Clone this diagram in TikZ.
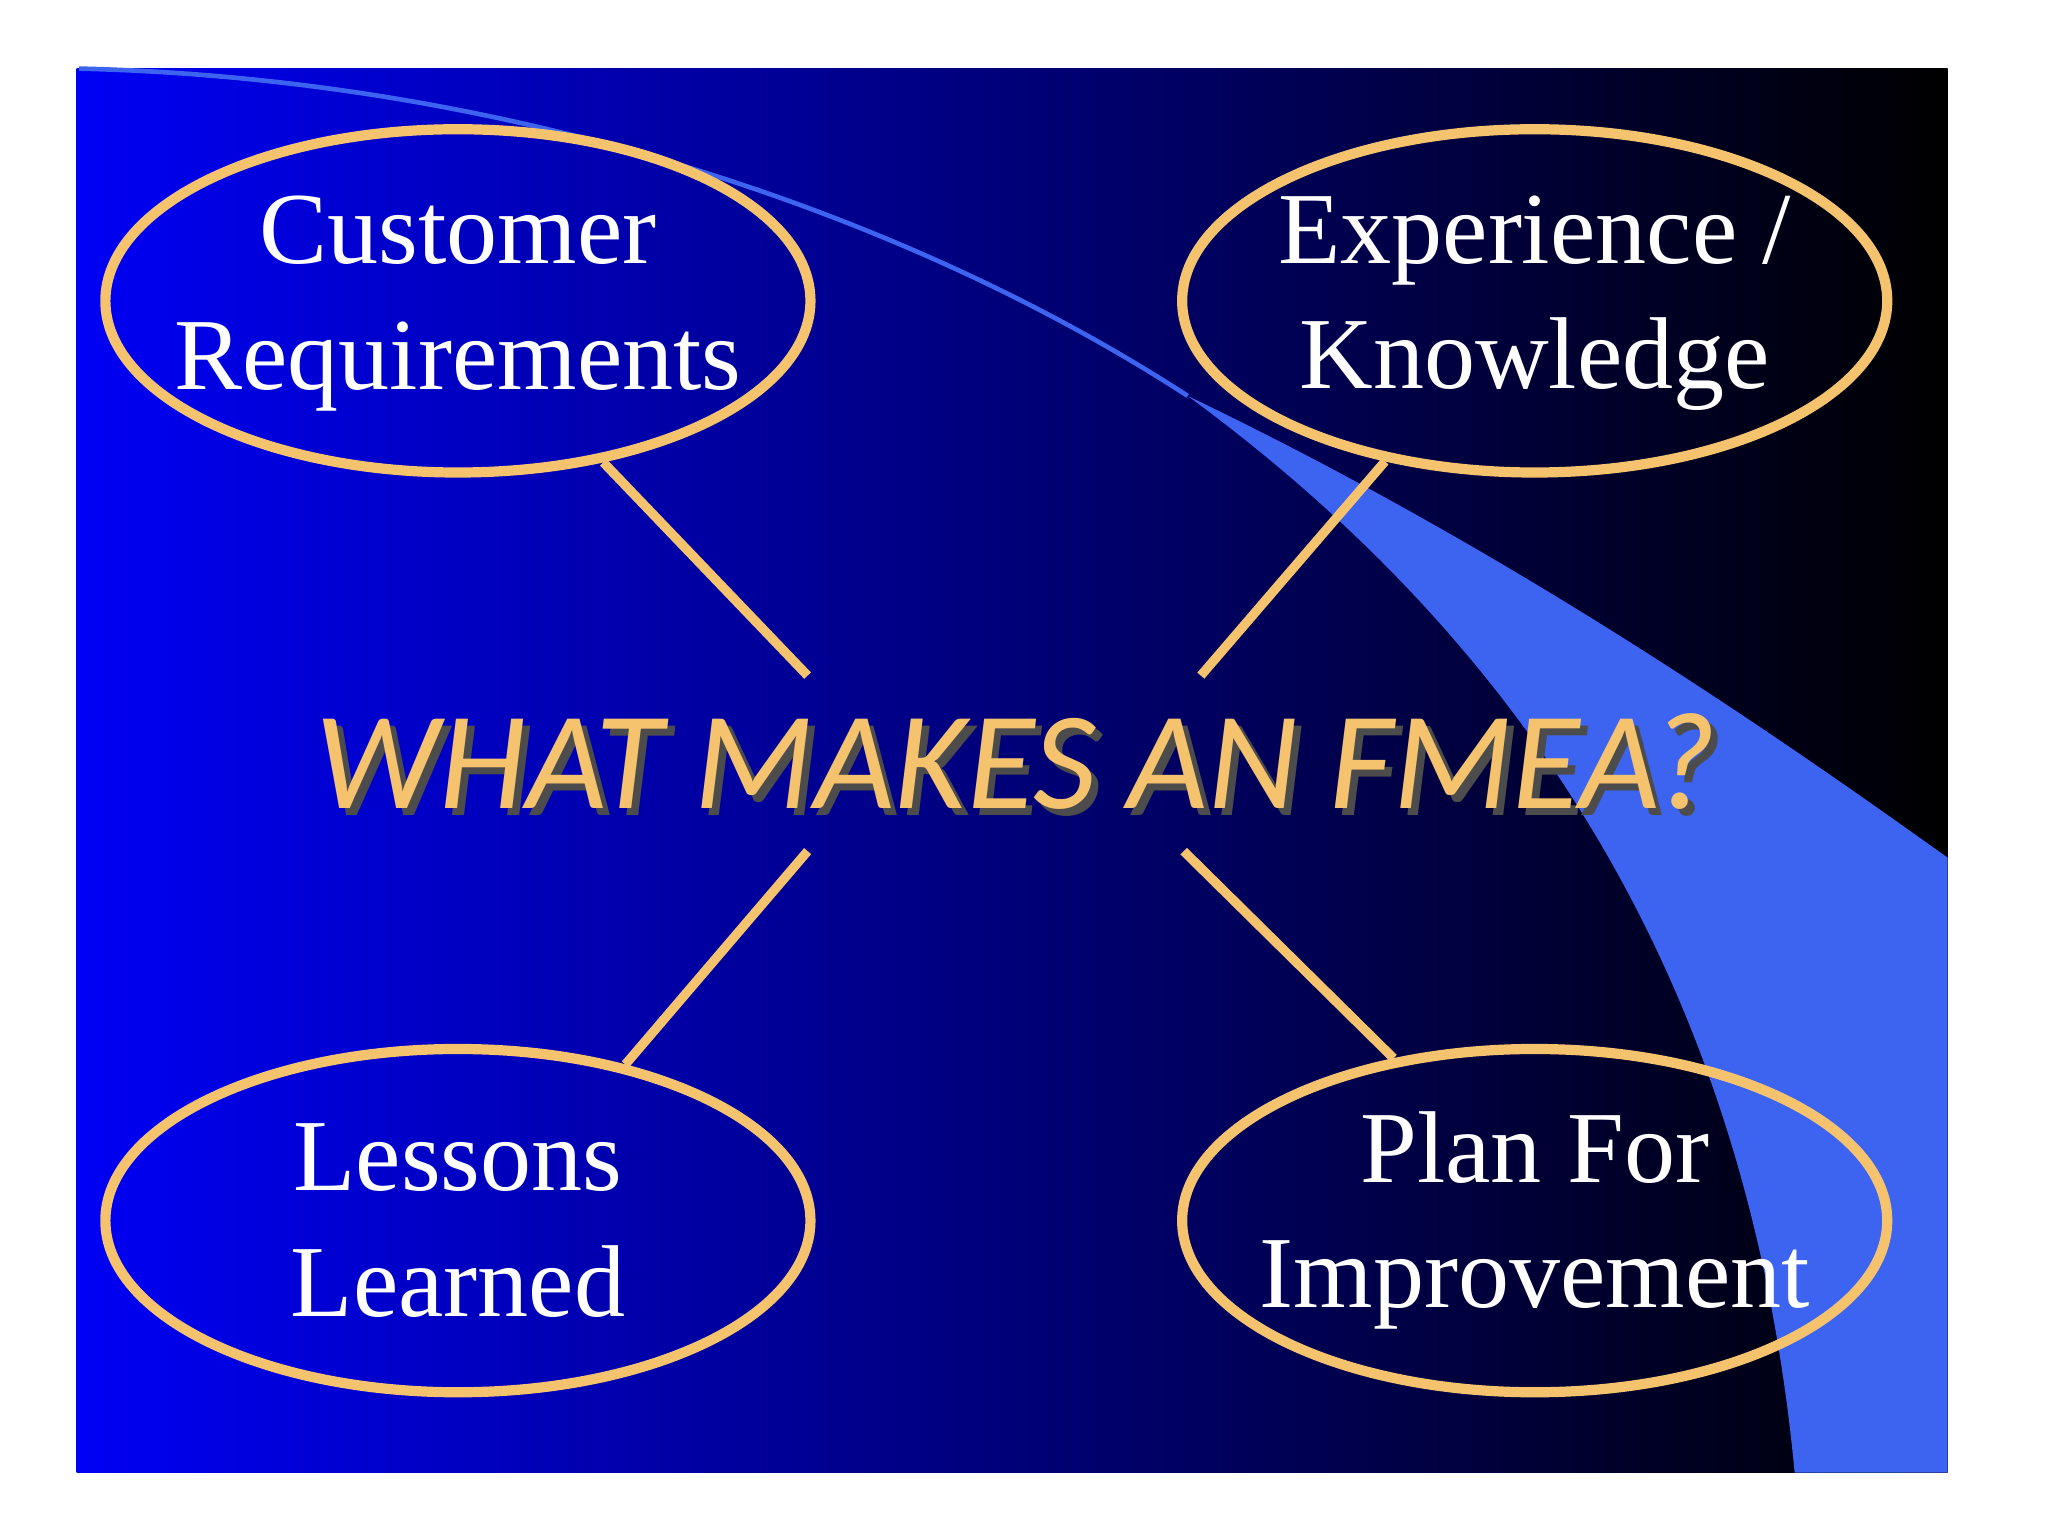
\documentclass[tikz,border=0pt]{standalone}
\usepackage{fontspec}
\setmainfont{Liberation Serif}
\newfontfamily\titlefont{Carlito}
\usetikzlibrary{shapes.geometric}
\definecolor{gold}{RGB}{245,195,110}
\definecolor{swoosh}{RGB}{60,100,240}
\tikzset{oval/.style={ellipse,draw=gold,line width=2.2pt,inner sep=0pt,minimum width=5.34cm,minimum height=2.6cm},
ovaltext/.style={align=center,text=white,font=\fontsize{22}{27}\selectfont},
link/.style={draw=gold,line width=2pt},
ttl/.style={font=\titlefont\itshape\fontsize{30}{34}\selectfont}}
\begin{document}
\begin{tikzpicture}[x=0.01cm,y=-0.01cm]
\useasboundingbox (0,0) rectangle (1552,1164);
\fill[white] (0,0) rectangle (1552,1164);
\shade[left color={rgb,255:red,0;green,0;blue,245},right color=black,middle color={rgb,255:red,0;green,0;blue,120}] (58,52) rectangle (1476,1116);
\fill[swoosh] (900,300) .. controls (1150,420) and (1350,560) .. (1476,650) -- (1476,1116) -- (1360,1116) .. controls (1330,800) and (1200,520) .. (900,300) -- cycle;
\draw[swoosh,line width=1pt] (60,52) .. controls (400,60) and (700,170) .. (900,300);
\node[oval] (cr) at (347,228) {};
\node[ovaltext] (crt) at (347,230) {Customer\\Requirements};
\node[oval] (ek) at (1163,228) {};
\node[ovaltext] (ekt) at (1163,230) {Experience /\\Knowledge};
\node[oval] (ll) at (347,925) {};
\node[ovaltext] (llt) at (347,925) {Lessons\\Learned};
\node[oval] (pi) at (1163,925) {};
\node[ovaltext] (pit) at (1163,925) {Plan For\\Improvement};
\node[ttl,text=black!70] (ts) at (775,582) {WHAT MAKES AN FMEA?};
\node[ttl,text=gold] (t) at (770,577) {WHAT MAKES AN FMEA?};
\coordinate (a) at (612,512); \coordinate (b) at (910,512);
\coordinate (c) at (612,645); \coordinate (d) at (897,645);
\draw[link] (cr.-48) -- (a);
\draw[link] (ek.-133) -- (b);
\draw[link] (ll.43) -- (c);
\draw[link] (pi.131) -- (d);
\end{tikzpicture}
\end{document}
